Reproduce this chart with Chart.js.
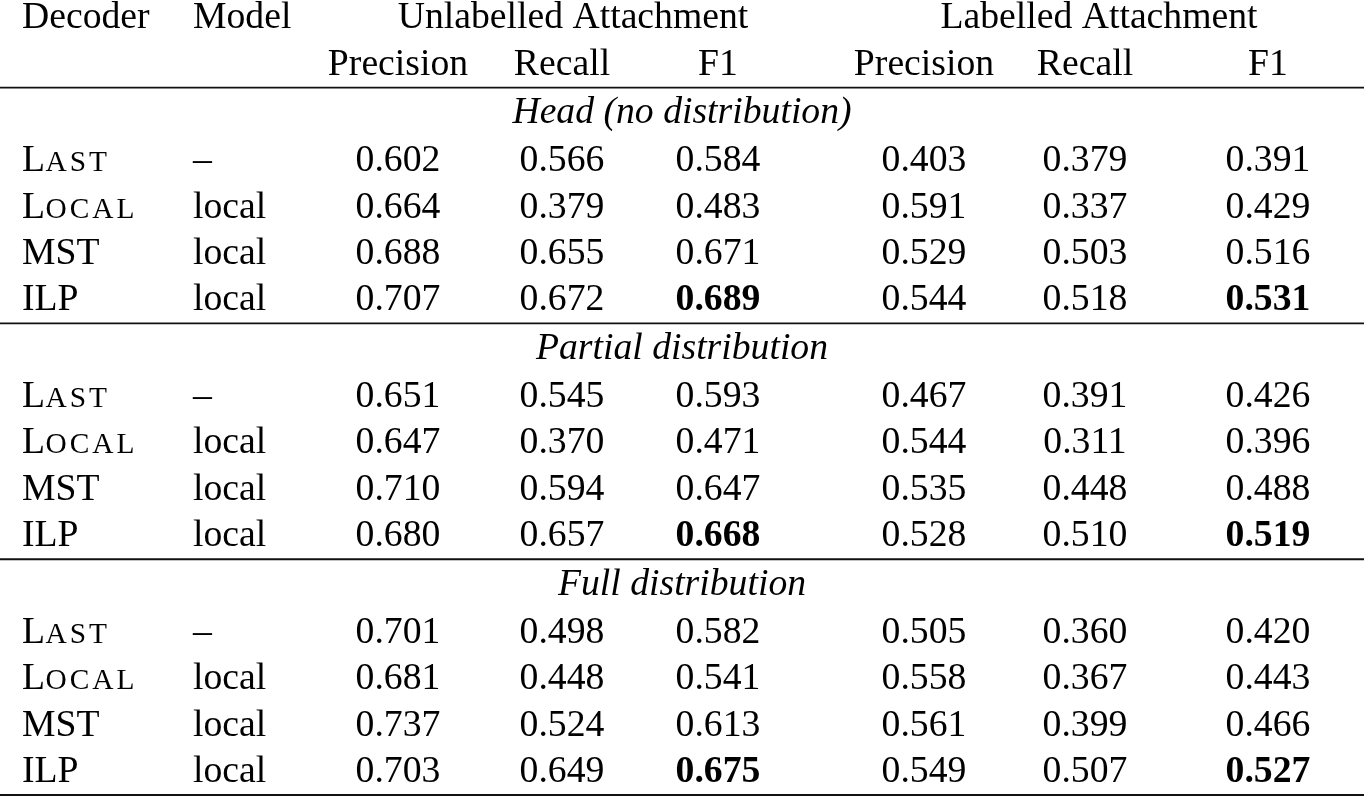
<!DOCTYPE html>
<html><head><meta charset="utf-8">
<script src="https://cdn.jsdelivr.net/npm/chart.js@4.4.1/dist/chart.umd.min.js"></script>
<style>html,body{margin:0;padding:0;background:#fff;overflow:hidden}#wrap{position:relative;width:1364px;height:802px}</style>
</head><body><div id="wrap"><canvas id="c"></canvas></div>
<script>
// ---------- data ----------
const sectionTitles = ['Head (no distribution)', 'Partial distribution', 'Full distribution'];
const decoders = ['Last', 'Local', 'MST', 'ILP'];
const decoderSmallCaps = [true, true, false, false];
const models = ['–', 'local', 'local', 'local'];
const headerLeft = ['Decoder', 'Model'];
const metricGroups = ['Unlabelled Attachment', 'Labelled Attachment'];
const metricNames = ['Precision', 'Recall', 'F1'];
const uaPrecision = [0.602, 0.664, 0.688, 0.707, 0.651, 0.647, 0.710, 0.680, 0.701, 0.681, 0.737, 0.703];
const uaRecall    = [0.566, 0.379, 0.655, 0.672, 0.545, 0.370, 0.594, 0.657, 0.498, 0.448, 0.524, 0.649];
const uaF1        = [0.584, 0.483, 0.671, 0.689, 0.593, 0.471, 0.647, 0.668, 0.582, 0.541, 0.613, 0.675];
const laPrecision = [0.403, 0.591, 0.529, 0.544, 0.467, 0.544, 0.535, 0.528, 0.505, 0.558, 0.561, 0.549];
const laRecall    = [0.379, 0.337, 0.503, 0.518, 0.391, 0.311, 0.448, 0.510, 0.360, 0.367, 0.399, 0.507];
const laF1        = [0.391, 0.429, 0.516, 0.531, 0.426, 0.396, 0.488, 0.519, 0.420, 0.443, 0.466, 0.527];

// ---------- layout ----------
const FONT = '"Liberation Serif", "Times New Roman", Times, serif';
const SIZE = 37.7;
const COL_DECODER = 22, COL_MODEL = 193;
const COL_METRIC = [[398, 562, 718], [924, 1085, 1268]];
const COL_GROUP = [573, 1099];
const COL_SECTION = 682;
const ROW_GAP = 0.08;
const RULE_OFF = 0.28;
const SECTION_SHIFT = -0.04;

function rowV(i) {
  const rules = i < 2 ? 0 : Math.floor((i - 2) / 5) + 1;
  return i + ROW_GAP * rules;
}

const valueCols = [[uaPrecision, uaRecall, uaF1], [laPrecision, laRecall, laF1]];

function isBest(arr, idx, isF1) {
  if (!isF1) return false;
  const s = Math.floor(idx / 4);
  const sec = arr.slice(s * 4, s * 4 + 4);
  return arr[idx] === Math.max(...sec);
}

const datasets = [];
function addDs(label, pts, texts, opts) {
  datasets.push(Object.assign({ label, data: pts, texts, pointRadius: 0, pointHoverRadius: 0, showLine: false, clip: false }, opts));
}

// header row 0
addDs('hdrLeft', [{x: COL_DECODER, y: rowV(0)}, {x: COL_MODEL, y: rowV(0)}], headerLeft, {align: 'left'});
addDs('hdrGroups', COL_GROUP.map(x => ({x, y: rowV(0)})), metricGroups, {align: 'center'});
// header row 1
const subPts = [], subTexts = [];
COL_METRIC.forEach(g => g.forEach((x, k) => { subPts.push({x, y: rowV(1)}); subTexts.push(metricNames[k]); }));
addDs('hdrMetrics', subPts, subTexts, {align: 'center'});
// sections
addDs('sections', sectionTitles.map((t, s) => ({x: COL_SECTION, y: rowV(2 + 5 * s) + SECTION_SHIFT})), sectionTitles, {align: 'center', italic: true});
// decoder + model columns
const decPts = [], decTexts = [], decSc = [], modPts = [], modTexts = [];
sectionTitles.forEach((t, s) => decoders.forEach((d, r) => {
  const y = rowV(3 + 5 * s + r);
  decPts.push({x: COL_DECODER, y}); decTexts.push(d); decSc.push(decoderSmallCaps[r]);
  modPts.push({x: COL_MODEL, y}); modTexts.push(models[r]);
}));
addDs('decoder', decPts, decTexts, {align: 'left', smallCaps: decSc});
addDs('model', modPts, modTexts, {align: 'left'});
// metric values
valueCols.forEach((grp, g) => grp.forEach((arr, k) => {
  const pts = [], texts = [], bold = [];
  arr.forEach((v, idx) => {
    const s = Math.floor(idx / 4), r = idx % 4;
    pts.push({x: COL_METRIC[g][k], y: rowV(3 + 5 * s + r)});
    texts.push(v.toFixed(3));
    bold.push(isBest(arr, idx, k === 2));
  });
  addDs(metricGroups[g] + ' ' + metricNames[k], pts, texts, {align: 'center', bold});
}));

const ruleValues = [rowV(1) + RULE_OFF, rowV(6) + RULE_OFF, rowV(11) + RULE_OFF, rowV(16) + RULE_OFF];

function drawSmallCaps(ctx, text, x, y) {
  const small = SIZE * 0.78;
  ctx.textAlign = 'left';
  ctx.font = `${SIZE}px ${FONT}`;
  ctx.fillText(text[0], x, y);
  let cx = x + ctx.measureText(text[0]).width + 0.5;
  ctx.font = `${small}px ${FONT}`;
  for (const ch of text.slice(1).toUpperCase()) {
    ctx.fillText(ch, cx, y);
    cx += ctx.measureText(ch).width + 3;
  }
}

const tablePlugin = {
  id: 'tableText',
  afterDatasetsDraw(chart) {
    const ctx = chart.ctx;
    const area = chart.chartArea;
    const ys = chart.scales.y;
    ctx.save();
    ctx.strokeStyle = '#111';
    ctx.lineWidth = 1.8;
    ruleValues.forEach(v => {
      const py = ys.getPixelForValue(v);
      ctx.beginPath(); ctx.moveTo(area.left, py); ctx.lineTo(area.right, py); ctx.stroke();
    });
    ctx.fillStyle = '#000';
    ctx.textBaseline = 'alphabetic';
    chart.data.datasets.forEach((ds, i) => {
      const meta = chart.getDatasetMeta(i);
      meta.data.forEach((el, j) => {
        const t = ds.texts[j];
        if (ds.smallCaps && ds.smallCaps[j]) { drawSmallCaps(ctx, t, el.x, el.y); return; }
        const b = ds.bold && ds.bold[j] ? 'bold ' : '';
        const it = ds.italic ? 'italic ' : '';
        ctx.font = `${it}${b}${SIZE}px ${FONT}`;
        ctx.textAlign = ds.align;
        ctx.fillText(t, el.x, el.y);
      });
    });
    ctx.restore();
  }
};

function build() {
  new Chart(document.getElementById('c'), {
    type: 'scatter',
    data: { datasets },
    options: {
      responsive: true,
      maintainAspectRatio: false,
      animation: false,
      events: [],
      layout: { padding: 0 },
      plugins: { legend: { display: false }, tooltip: { enabled: false } },
      scales: {
        x: { type: 'linear', display: false, min: 0, max: 1364 },
        y: { type: 'linear', display: false, reverse: true, min: -0.61, max: 16.671 }
      }
    },
    plugins: [tablePlugin]
  });
}
if (document.fonts && document.fonts.load) {
  Promise.all([
    document.fonts.load(`${SIZE}px "Liberation Serif"`),
    document.fonts.load(`bold ${SIZE}px "Liberation Serif"`),
    document.fonts.load(`italic ${SIZE}px "Liberation Serif"`)
  ]).then(build, build);
} else build();
</script></body></html>
